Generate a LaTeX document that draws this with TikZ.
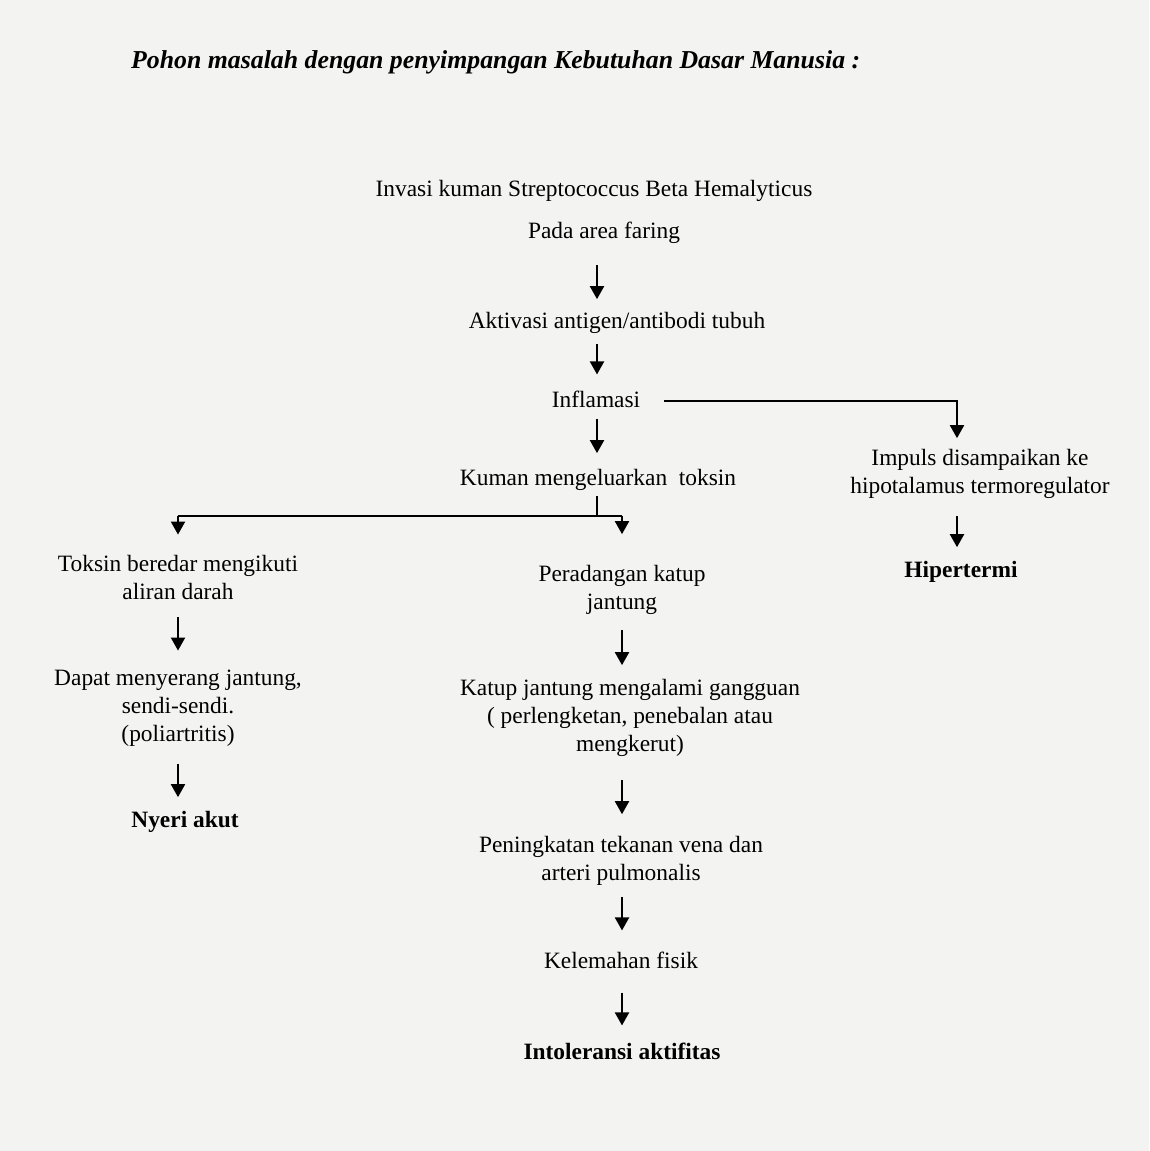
\documentclass[tikz,border=0pt]{standalone}
\usepackage{fontspec}
\setmainfont{Liberation Serif}
\usetikzlibrary{arrows.meta}
\definecolor{kertas}{RGB}{243,243,241}
\begin{document}
\begin{tikzpicture}[x=1pt,y=-1pt,
    teks/.style={inner sep=0pt,align=center,font=\fontsize{23.4}{28}\selectfont},
    hasil/.style={teks,font=\fontsize{23.4}{28}\selectfont\bfseries},
    garis/.style={line width=2pt},
    panah/.style={garis,-{Triangle[width=14pt,length=13pt]},shorten <=14pt,shorten >=16pt}]
  \fill[kertas] (0,0) rectangle (1149,1151);
  \useasboundingbox (0,0) rectangle (1149,1151);
  % judul
  \node[anchor=west,inner sep=0pt,font=\fontsize{25.8}{30}\selectfont\bfseries\itshape] (judul) at (131,62)
    {Pohon masalah dengan penyimpangan Kebutuhan Dasar Manusia :};
  % kolom tengah atas
  \node[teks] (invasi) at (594,191) {Invasi kuman Streptococcus Beta Hemalyticus};
  \node[teks] (pada) at (604,233) {Pada area faring};
  \node[teks] (aktivasi) at (617,323) {Aktivasi antigen/antibodi tubuh};
  \node[teks] (inflamasi) at (596,399) {Inflamasi};
  \node[teks] (kuman) at (598,480) {Kuman mengeluarkan~ toksin};
  \coordinate (tengah) at (597,516);
  \coordinate (kiri) at (178,516);
  \coordinate (kanan) at (622,516);
  \coordinate (belok) at (957,401);
  % cabang kiri
  \node[teks] (toksin) at (178,577) {Toksin beredar mengikuti\\aliran darah};
  \node[teks] (menyerang) at (178,708) {Dapat menyerang jantung,\\sendi-sendi.\\(poliartritis)};
  \node[hasil] (nyeri) at (185,822) {Nyeri akut};
  % cabang tengah
  \node[teks] (radang) at (622,590) {Peradangan katup\\jantung};
  \node[teks] (katup) at (630,718) {Katup jantung mengalami gangguan\\( perlengketan, penebalan atau\\mengkerut)};
  \node[teks] (tekanan) at (621,861) {Peningkatan tekanan vena dan\\arteri pulmonalis};
  \node[teks] (lemah) at (621,960) {Kelemahan fisik};
  \node[hasil] (intol) at (622,1051) {Intoleransi aktifitas};
  % cabang kanan
  \node[teks] (impuls) at (980,474) {Impuls disampaikan ke\\hipotalamus termoregulator};
  \node[hasil] (hiper) at (961,572) {Hipertermi};

  \draw[panah,shorten <=21pt,shorten >=13pt] (pada.south -| tengah) -- (aktivasi.north -| tengah);
  \draw[panah,shorten <=10pt] (aktivasi.south -| tengah) -- (inflamasi.north -| tengah);
  \draw[panah,shorten <=11pt] (inflamasi.south -| tengah) -- (kuman.north -| tengah);
  \draw[panah,shorten <=24pt,shorten >=11pt] (inflamasi.east |- belok) -| (impuls.north -| belok);
  \draw[panah,shorten <=17pt,shorten >=14pt] (impuls.south -| belok) -- (hiper.north -| belok);
  \draw[garis,shorten <=5pt] (kuman.south -| tengah) -- (tengah);
  \draw[garis] (kiri) -- (kanan);
  \draw[panah,shorten <=0pt,shorten >=20pt] (kiri) -- (toksin.north -| kiri);
  \draw[panah,shorten <=0pt,shorten >=31pt] (kanan) -- (radang.north -| kanan);
  \draw[panah,shorten <=18pt,shorten >=19pt] (toksin.south) -- (menyerang.north);
  \draw[panah,shorten <=18pt,shorten >=14pt] (menyerang.south) -- (nyeri.north -| menyerang);
  \draw[panah,shorten <=15pt,shorten >=14pt] (radang.south) -- (katup.north -| radang);
  \draw[panah,shorten <=23pt,shorten >=22pt] (katup.south -| radang) -- (tekanan.north -| radang);
  \draw[panah,shorten <=11pt,shorten >=21pt] (tekanan.south -| radang) -- (lemah.north -| radang);
  \draw[panah,shorten <=24pt,shorten >=17pt] (lemah.south -| radang) -- (intol.north -| radang);
\end{tikzpicture}
\end{document}
